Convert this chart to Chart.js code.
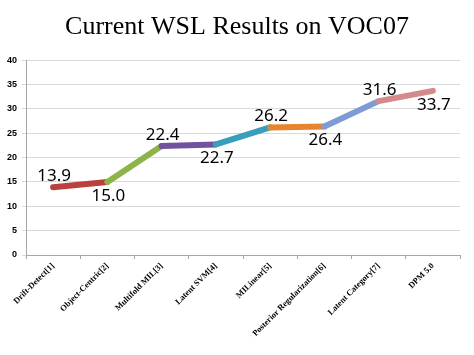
<!DOCTYPE html>
<html>
<head>
<meta charset="utf-8">
<script src="https://cdn.jsdelivr.net/npm/chart.js@4/dist/chart.umd.min.js"></script>
<style>
html,body{margin:0;padding:0;background:#fff;}
#wrap{width:474px;height:355px;}
</style>
</head>
<body>
<div id="wrap"><canvas id="c" width="474" height="355"></canvas></div>
<script>
const categories = ["Drift-Detect[1]","Object-Centric[2]","Multifold MIL[3]","Latent SVM[4]","MILinear[5]","Posterior Regularization[6]","Latent Category[7]","DPM 5.0"];
const values = [13.9, 15.0, 22.4, 22.7, 26.2, 26.4, 31.6, 33.7];
const valueLabels = ["13.9","15.0","22.4","22.7","26.2","26.4","31.6","33.7"];
const yTicks = [0,5,10,15,20,25,30,35,40];
const segmentColors = ["#B8403D","#8DB44B","#7251A0","#3A9DBB","#E8832E","#7E9CD4","#D48A8C"];
const labelSide = ["above","below","above","below","above","below","above","below"];

const labelPlugin = {
  id: 'valueLabels',
  afterDatasetsDraw(chart) {
    const ctx = chart.ctx;
    const meta = chart.getDatasetMeta(0);
    ctx.save();
    ctx.font = '17px "Noto Sans"';
    ctx.fillStyle = '#000';
    ctx.textAlign = 'center';
    ctx.textBaseline = 'middle';
    meta.data.forEach((pt, i) => {
      const dy = labelSide[i] === 'above' ? -11 : 14;
      ctx.fillText(valueLabels[i], pt.x + 1, pt.y + dy);
    });
    ctx.restore();
  }
};

new Chart(document.getElementById('c'), {
  type: 'line',
  data: {
    labels: categories,
    datasets: [{
      data: values,
      borderWidth: 6,
      borderCapStyle: 'round',
      borderJoinStyle: 'round',
      pointRadius: 0,
      tension: 0,
      borderColor: segmentColors[0],
      segment: {
        borderColor: c => segmentColors[c.p0DataIndex]
      }
    }]
  },
  options: {
    responsive: false,
    animation: false,
    layout: { padding: { left: 0, right: 0, top: 0, bottom: 0 } },
    plugins: {
      legend: { display: false },
      tooltip: { enabled: false },
      title: {
        display: true,
        text: 'Current WSL Results on VOC07',
        color: '#000',
        font: { family: '"Liberation Serif"', size: 26, weight: 'normal' },
        padding: { top: 12, bottom: 17 }
      }
    },
    scales: {
      x: {
        offset: true,
        grid: { display: true, drawOnChartArea: false, drawTicks: true, tickLength: 4, offset: true, color: '#a6a6a6' },
        border: { display: true, color: '#a6a6a6', width: 1 },
        ticks: {
          autoSkip: false,
          minRotation: 45, maxRotation: 45,
          padding: 2,
          color: '#000',
          font: { family: '"Liberation Serif"', size: 8.5, weight: 'bold' }
        },
        afterFit: s => { s.height = 100; }
      },
      y: {
        min: 0, max: 40,
        afterBuildTicks: s => { s.ticks = yTicks.map(v => ({ value: v })); },
        grid: { color: '#d9d9d9', tickLength: 4, drawTicks: true },
        border: { display: true, color: '#a6a6a6', width: 1 },
        ticks: {
          padding: 5,
          color: '#000',
          font: { family: '"Liberation Sans"', size: 9, weight: 'bold' }
        },
        afterFit: s => { s.width = 26; }
      },
      yRightSpacer: {
        position: 'right',
        min: 0, max: 40,
        grid: { display: false, drawTicks: false },
        border: { display: false },
        ticks: { display: false },
        afterFit: s => { s.width = 14; }
      }
    }
  },
  plugins: [labelPlugin]
});
</script>
</body>
</html>
